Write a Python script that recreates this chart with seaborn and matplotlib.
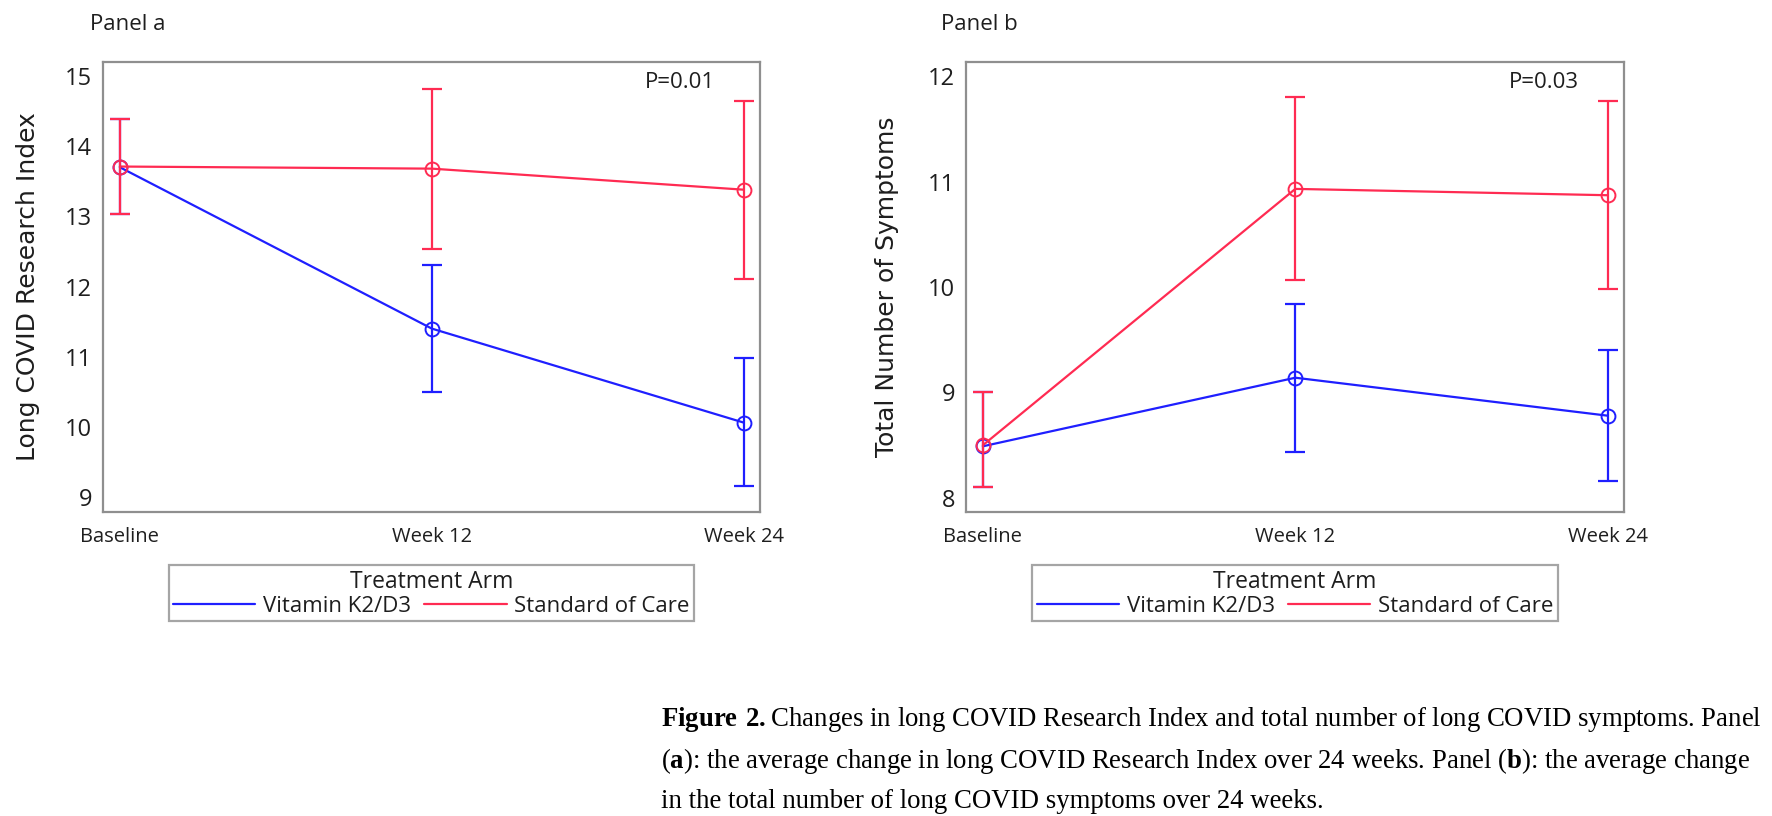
import pandas as pd
import matplotlib.pyplot as plt
import seaborn as sns
from matplotlib.lines import Line2D

# Categories
visits = ["Baseline", "Week 12", "Week 24"]
arms = ["Vitamin K2/D3", "Standard of Care"]

# Panel a: Long COVID Research Index (mean, lower CI, upper CI)
lcri_k2d3 = [13.70, 11.40, 10.06]
lcri_k2d3_lo = [13.03, 10.49, 9.15]
lcri_k2d3_hi = [14.39, 12.31, 10.98]
lcri_soc = [13.71, 13.68, 13.38]
lcri_soc_lo = [13.03, 12.54, 12.11]
lcri_soc_hi = [14.39, 14.81, 14.65]

# Panel b: Total number of symptoms
sym_k2d3 = [8.49, 9.14, 8.78]
sym_k2d3_lo = [8.10, 8.44, 8.16]
sym_k2d3_hi = [9.00, 9.84, 9.40]
sym_soc = [8.50, 10.93, 10.87]
sym_soc_lo = [8.10, 10.07, 9.98]
sym_soc_hi = [9.00, 11.80, 11.76]

p_values = ["P=0.01", "P=0.03"]

BLUE = "#1f1fff"
RED = "#ff2b52"
FRAME = "#8f8f8f"
TEXT = "#1e1e1e"
palette = {arms[0]: BLUE, arms[1]: RED}

sns.set_theme(style="white")
plt.rcParams["font.family"] = ["Open Sans", "DejaVu Sans"]
plt.rcParams["text.color"] = TEXT
plt.rcParams["xtick.color"] = TEXT
plt.rcParams["ytick.color"] = TEXT
plt.rcParams["axes.labelcolor"] = TEXT
plt.rcParams["mathtext.fontset"] = "custom"
plt.rcParams["mathtext.rm"] = "Liberation Serif"
plt.rcParams["mathtext.bf"] = "Liberation Serif:bold"


def make_frame(k2, k2_lo, k2_hi, soc, soc_lo, soc_hi):
    rows = []
    for arm, m, lo, hi in [(arms[0], k2, k2_lo, k2_hi), (arms[1], soc, soc_lo, soc_hi)]:
        for i, v in enumerate(visits):
            rows.append({"visit": v, "pos": i, "arm": arm, "mean": m[i], "lo": lo[i], "hi": hi[i]})
    return pd.DataFrame(rows)


def draw_panel(ax, df, ylabel, yticks, ylim, pval, ylabel_x):
    sns.lineplot(data=df, x="pos", y="mean", hue="arm", hue_order=arms, palette=palette,
                 marker="o", markersize=10, mfc="none", mew=1.4, linewidth=1.6,
                 legend=False, ax=ax)
    for line in ax.lines:
        line.set_markeredgecolor(line.get_color())
        line.set_markerfacecolor("none")

    # confidence intervals
    for arm in arms:
        sub = df[df["arm"] == arm]
        ax.errorbar(sub["pos"], sub["mean"],
                    yerr=[sub["mean"] - sub["lo"], sub["hi"] - sub["mean"]],
                    fmt="none", ecolor=palette[arm], elinewidth=1.6, capsize=7, capthick=1.6)

    ax.set_xlim(-0.054, 2.052)
    ax.set_ylim(*ylim)
    ax.set_xticks(range(len(visits)))
    ax.set_xticklabels(visits)
    ax.set_yticks(yticks)
    ax.tick_params(axis="x", length=0, pad=11, labelsize=14.5)
    ax.tick_params(axis="y", length=0, pad=8, labelsize=17)
    ax.set_xlabel("")
    ax.set_ylabel(ylabel, fontsize=18, family="DejaVu Sans", va="center")
    ax.yaxis.set_label_coords(ylabel_x, 0.5)
    for sp in ax.spines.values():
        sp.set_color(FRAME)
        sp.set_linewidth(1.6)
        sp.set_visible(True)

    ax.text(0.931, 0.955, pval, transform=ax.transAxes, ha="right", va="center", fontsize=16)

    handles = [Line2D([], [], color=palette[a], lw=1.6) for a in arms]
    leg = ax.legend(handles, arms, title="Treatment Arm", ncol=2, loc="upper center",
                    bbox_to_anchor=(0.5, -0.118), borderaxespad=0, fontsize=16, title_fontsize=16.5,
                    handlelength=3.7, handletextpad=0.35, columnspacing=0.6,
                    borderpad=0.2, labelspacing=0.1, frameon=True, fancybox=False)
    leg.get_frame().set_edgecolor(FRAME)
    leg.get_frame().set_linewidth(1.6)


df_a = make_frame(lcri_k2d3, lcri_k2d3_lo, lcri_k2d3_hi, lcri_soc, lcri_soc_lo, lcri_soc_hi)
df_b = make_frame(sym_k2d3, sym_k2d3_lo, sym_k2d3_hi, sym_soc, sym_soc_lo, sym_soc_hi)

fig = plt.figure(figsize=(17.72, 8.16), dpi=100)
ax_a = fig.add_axes([103 / 1772, 1 - 512 / 816, 657 / 1772, 450 / 816])
ax_b = fig.add_axes([966 / 1772, 1 - 512 / 816, 658 / 1772, 450 / 816])

draw_panel(ax_a, df_a, "Long COVID Research Index", [9, 10, 11, 12, 13, 14, 15],
           (8.786, 15.2), p_values[0], -0.114)
draw_panel(ax_b, df_b, "Total Number of Symptoms", [8, 9, 10, 11, 12],
           (7.867, 12.133), p_values[1], -0.12)

fig.text(90 / 1772, 1 - 25 / 816, "Panel a", ha="left", va="center", fontsize=16)
fig.text(941 / 1772, 1 - 25 / 816, "Panel b", ha="left", va="center", fontsize=16)

# caption
cap_kw = dict(ha="left", va="center", fontsize=19.3, family="Liberation Serif", color="black")
fig.text(661 / 1772, 1 - 719 / 816,
         r"$\mathbf{Figure\ 2.}$Changes in long COVID Research Index and total number of long COVID symptoms. Panel",
         **cap_kw)
fig.text(661 / 1772, 1 - 761 / 816,
         r"($\mathbf{a}$): the average change in long COVID Research Index over 24 weeks. Panel ($\mathbf{b}$): the average change",
         **cap_kw)
fig.text(661 / 1772, 1 - 801 / 816,
         "in the total number of long COVID symptoms over 24 weeks.", **cap_kw)

fig.savefig("out.png", dpi=100, facecolor="white")
